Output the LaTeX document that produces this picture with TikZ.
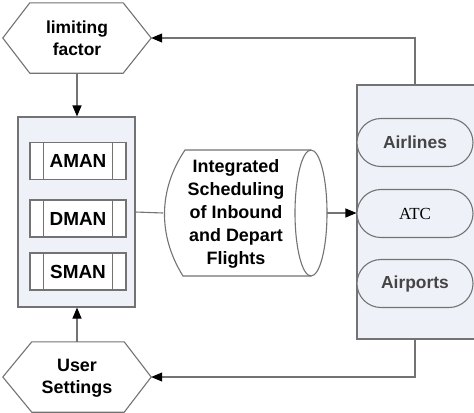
\documentclass[tikz,border=0pt]{standalone}
\usepackage{fontspec}
\setmainfont{Liberation Sans}
\newfontfamily\serifatc{Liberation Serif}
\usetikzlibrary{arrows.meta}
\definecolor{lineg}{HTML}{737373}
\definecolor{panelfill}{HTML}{EEF2F8}
\definecolor{pilltext}{HTML}{454545}
\tikzset{
  shapeline/.style={draw=lineg, line width=1.1bp},
  lbl/.style={font=\fontsize{17.5}{22.5}\selectfont\bfseries, align=center, inner sep=0pt},
  panel/.style={shapeline, fill=panelfill, inner sep=0pt},
  modbox/.style={shapeline, fill=white, minimum width=96bp, minimum height=37bp, inner sep=0pt, font=\fontsize{19}{21}\selectfont\bfseries},
  pill/.style={shapeline, fill=panelfill, rounded corners=24bp, minimum width=116bp, minimum height=48bp, inner sep=0pt, font=\fontsize{17.5}{21}\selectfont\bfseries, text=pilltext},
  conn/.style={draw=lineg, line width=1.1bp, -{Triangle[length=11bp,width=9bp,fill=black,color=black]}},
  plain/.style={draw=lineg, line width=1.1bp}
}
\begin{document}
\begin{tikzpicture}[x=1bp,y=-1bp]
\useasboundingbox (0,0) rectangle (474,412);
\begin{scope}
\clip (0,0) rectangle (474,412);
% limiting factor hexagon
\node[lbl, minimum width=148bp, minimum height=70bp] (lf) at (77,38) {};
\draw[shapeline, fill=white] ([xshift=27bp]lf.north west) -- ([xshift=-28bp]lf.north east) -- (lf.east) -- ([xshift=-28bp]lf.south east) -- ([xshift=27bp]lf.south west) -- (lf.west) -- cycle;
\node[lbl] at (lf.center) {limiting\\factor};
% user settings hexagon
\node[lbl, minimum width=148bp, minimum height=70bp] (us) at (77,377) {};
\draw[shapeline, fill=white] ([xshift=29bp]us.north west) -- ([xshift=-27bp]us.north east) -- (us.east) -- ([xshift=-27bp]us.south east) -- ([xshift=29bp]us.south west) -- (us.west) -- cycle;
\node[lbl, font=\fontsize{18}{22.5}\selectfont\bfseries] at ([yshift=-1bp]us.center) {User\\Settings};
% left box
\node[panel, minimum width=117bp, minimum height=190bp] (lb) at (76.5,212) {};
\node[modbox] (aman) at (78,161) {AMAN};
\draw[shapeline] ([xshift=14bp]aman.north west) -- ([xshift=14bp]aman.south west);
\draw[shapeline] ([xshift=-14bp]aman.north east) -- ([xshift=-14bp]aman.south east);
\node[modbox] (dman) at (78,218.5) {DMAN};
\draw[shapeline] ([xshift=14bp]dman.north west) -- ([xshift=14bp]dman.south west);
\draw[shapeline] ([xshift=-14bp]dman.north east) -- ([xshift=-14bp]dman.south east);
\node[modbox] (sman) at (78,271.5) {SMAN};
\draw[shapeline] ([xshift=14bp]sman.north west) -- ([xshift=14bp]sman.south west);
\draw[shapeline] ([xshift=-14bp]sman.north east) -- ([xshift=-14bp]sman.south east);
% cylinder (direct data)
\draw[shapeline, fill=white] (185,150) -- (311,150) arc[start angle=-90, end angle=90, x radius=16bp, y radius=-63bp] -- (183,276) .. controls (158,236) and (158,190) .. (185,150) -- cycle;
\draw[shapeline] (311,150) arc[start angle=-90, end angle=-270, x radius=16bp, y radius=-63bp];
\node[lbl, font=\fontsize{18}{23}\selectfont\bfseries] (cyl) at (236,214) {Integrated\\Scheduling\\of Inbound\\and Depart\\Flights};
\coordinate (cylw) at (163,213);
\coordinate (cyle) at (327,213);
% right panel
\node[panel, minimum width=118bp, minimum height=254bp] (rp) at (416,212) {};
\node[pill] (air) at (415,142.5) {Airlines};
\node[pill, font=\serifatc\fontsize{17}{20}\selectfont, text=black] (atc) at (415,213.5) {ATC};
\node[pill] (apt) at (415,283.5) {Airports};
\end{scope}
% connectors
\draw[conn] (lf.south) -- (lb.north -| lf.south);
\draw[conn] (us.north) -- (lb.south -| us.north);
\draw[plain] (lb.east) -- (cylw);
\draw[conn] (cyle) -- (rp.west |- cyle);
\draw[conn] ([xshift=-1bp]rp.north) |- (lf.east);
\draw[conn] ([xshift=-1bp]rp.south) |- (us.east);
\end{tikzpicture}
\end{document}
